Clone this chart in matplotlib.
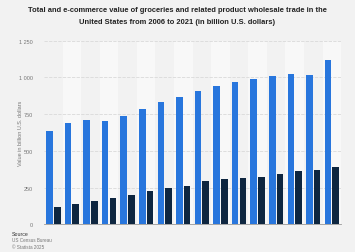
import numpy as np
import matplotlib.pyplot as plt

plt.rcParams['font.family'] = ['Liberation Sans', 'DejaVu Sans']

years = list(range(2006, 2022))
total = [638, 688, 714, 707, 736, 784, 836, 864, 911, 945, 966, 988, 1007, 1025, 1018, 1116]
ecommerce = [116, 139, 159, 180, 200, 225, 248, 264, 294, 309, 316, 323, 344, 364, 373, 391]
yticks = [0, 250, 500, 750, 1000, 1250]
ytick_labels = ['0', '250', '500', '750', '1 000', '1 250']

bg = '#f2f2f2'
fig = plt.figure(figsize=(3.55, 2.53), dpi=100, facecolor=bg)
ax = fig.add_axes([0.124, 0.109, 0.837, 0.726], facecolor=bg)

x = np.arange(len(years))
# alternate column shading
for i in x[1::2]:
    ax.axvspan(i - 0.5, i + 0.5, color='#f8f8f8', zorder=0, lw=0)

ax.bar(x - 0.21, total, width=0.355, color='#2876dd', zorder=3)
ax.bar(x + 0.21, ecommerce, width=0.355, color='#0e2640', zorder=3)

ax.set_xlim(-0.5, len(years) - 0.5)
ax.set_ylim(0, 1250)
ax.set_yticks(yticks)
ax.set_yticklabels(ytick_labels, fontsize=4, color='#777777')
ax.set_xticks(x)
ax.set_xticklabels([])
ax.tick_params(length=0, pad=8)
ax.grid(axis='y', color='#dadada', lw=0.6, ls=(0, (4, 1.5)), zorder=1)
for s in ['top', 'right', 'left']:
    ax.spines[s].set_visible(False)
ax.spines['bottom'].set_color('#999999')
ax.spines['bottom'].set_linewidth(0.6)
ax.spines['bottom'].set_zorder(4)

ax.set_ylabel('Value in billion U.S. dollars', fontsize=4, color='#777777')
ax.yaxis.set_label_coords(-0.072, 0.5)

fig.text(0.5, 0.972, 'Total and e-commerce value of groceries and related product wholesale trade in the\n'
         'United States from 2006 to 2021 (in billion U.S. dollars)',
         ha='center', va='top', fontsize=5.4, fontweight='bold', color='#222222', linespacing=1.95)

fig.text(0.034, 0.083, 'Source', fontsize=3.8, color='#333333', va='top')
fig.text(0.034, 0.058, 'US Census Bureau\n© Statista 2025', fontsize=3.3, color='#777777', va='top',
         linespacing=1.3)

fig.savefig('out.png', dpi=100, facecolor=bg)
